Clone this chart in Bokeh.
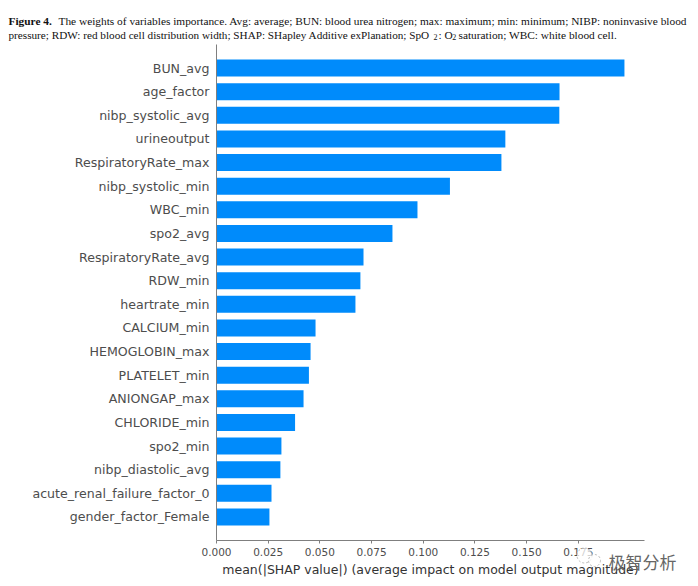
from bokeh.plotting import figure
from bokeh.layouts import column
from bokeh.models import ColumnDataSource, FactorRange, Range1d, FixedTicker
from bokeh.core.properties import value
from bokeh.embed import file_html
from bokeh.resources import INLINE

features = ["BUN_avg", "age_factor", "nibp_systolic_avg", "urineoutput",
            "RespiratoryRate_max", "nibp_systolic_min", "WBC_min", "spo2_avg",
            "RespiratoryRate_avg", "RDW_min", "heartrate_min", "CALCIUM_min",
            "HEMOGLOBIN_max", "PLATELET_min", "ANIONGAP_max", "CHLORIDE_min",
            "spo2_min", "nibp_diastolic_avg", "acute_renal_failure_factor_0",
            "gender_factor_Female"]
shap_values = [0.1973, 0.1659, 0.1658, 0.1397, 0.1378, 0.1129, 0.0972, 0.0851,
               0.0711, 0.0696, 0.0672, 0.0479, 0.0455, 0.0447, 0.0421, 0.0380,
               0.0314, 0.0309, 0.0266, 0.0256]
x_ticks = [0.0, 0.025, 0.05, 0.075, 0.1, 0.125, 0.15, 0.175]

WIDTH = 696
CAPTION_H = 44
AXIS_GREY = "#7f7f7f"
TEXT_GREY = "#4d4d4d"

source = ColumnDataSource(data=dict(feature=features, value=shap_values))

p = figure(width=WIDTH, height=540, output_backend="svg", toolbar_location=None,
           x_range=Range1d(0, 0.207),
           y_range=FactorRange(factors=features[::-1], range_padding=0.5,
                               range_padding_units="absolute"),
           min_border_left=216, min_border_right=52,
           min_border_top=0, min_border_bottom=44, frame_align=False)

p.hbar(y="feature", right="value", left=0, height=0.72, source=source,
       fill_color="#008bfb", line_color=None)

p.grid.grid_line_color = None
p.outline_line_color = None

p.yaxis.major_tick_line_color = None
p.yaxis.major_tick_out = 0
p.yaxis.major_tick_in = 0
p.yaxis.minor_tick_line_color = None
p.yaxis.axis_line_color = AXIS_GREY
p.yaxis.major_label_text_font = "DejaVu Sans"
p.yaxis.major_label_text_font_size = "12.6px"
p.yaxis.major_label_text_color = TEXT_GREY
p.yaxis.major_label_standoff = 7

p.xaxis.ticker = FixedTicker(ticks=x_ticks)
p.xaxis.major_label_overrides = {t: f"{t:.3f}" for t in x_ticks}
p.xaxis.minor_tick_line_color = None
p.xaxis.axis_line_color = AXIS_GREY
p.xaxis.major_tick_line_color = AXIS_GREY
p.xaxis.major_tick_out = 3
p.xaxis.major_tick_in = 0
p.xaxis.major_label_standoff = 4
p.xaxis.major_label_text_font = "DejaVu Sans"
p.xaxis.major_label_text_font_size = "10.5px"
p.xaxis.major_label_text_color = TEXT_GREY
p.xaxis.axis_label = "mean(|SHAP value|) (average impact on model output magnitude)"
p.xaxis.axis_label_text_font = "DejaVu Sans"
p.xaxis.axis_label_text_font_style = "normal"
p.xaxis.axis_label_text_font_size = "12.5px"
p.xaxis.axis_label_text_color = "#333333"
p.xaxis.axis_label_standoff = 3


def text_strip(width, height, **kw):
    # a figure that is only a frame, its ranges count pixels from the top left
    f = figure(width=width, height=height, output_backend="svg", toolbar_location=None,
               x_range=Range1d(0, width), y_range=Range1d(height, 0),
               x_axis_type=None, y_axis_type=None, min_border=0, frame_align=False, **kw)
    f.grid.grid_line_color = None
    f.outline_line_color = None
    return f


def note(f, x, y, text, size="11.35px", style="normal", font="Liberation Serif", color="#111111"):
    f.text(x=[x], y=[y], text=[text], text_font=value(font), text_font_size=value(size),
           text_font_style=style, text_color=color, text_baseline="alphabetic")


cap = text_strip(WIDTH, CAPTION_H)
note(cap, 8, 20, "Figure 4.", style="bold")
note(cap, 58, 20, "The weights of variables importance. Avg: average; BUN: blood urea nitrogen; "
                  "max: maximum; min: minimum; NIBP: noninvasive blood")
note(cap, 8, 34, "pressure; RDW: red blood cell distribution width; SHAP: SHapley Additive exPlanation; SpO",
     size="11.2px")
note(cap, 433, 36, "2", size="8px")
note(cap, 438, 34, ": O")
note(cap, 451.8, 36, "2", size="8px")
note(cap, 458, 34, "saturation; WBC: white blood cell.")

# watermark sits over the tick labels, so it is a see-through strip pulled up over the plot
mark = text_strip(120, 36, margin=(-48, 0, 0, 570),
                  background_fill_alpha=0, border_fill_alpha=0)
mark.scatter(x=[14, 24], y=[19, 24], size=[15, 12], fill_color="white", fill_alpha=0.75,
             line_color="#bbbbbb", line_dash="2 2")
note(mark, 38, 25, "极智分析", size="17px", font="Noto Sans CJK SC", color="#666666")

open("out.html", "w").write(file_html(column(cap, p, mark, spacing=0), INLINE))
